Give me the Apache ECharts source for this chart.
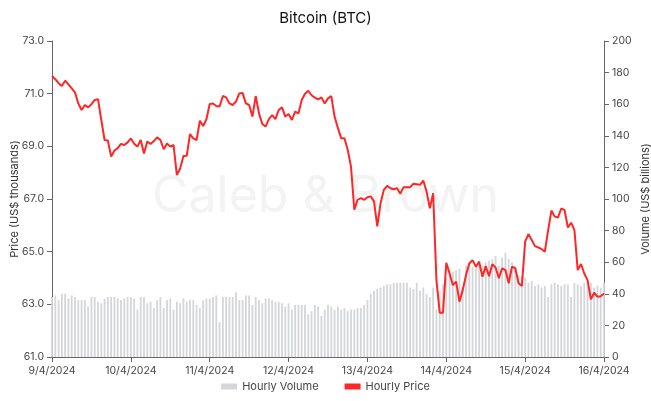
<!DOCTYPE html>
<html><head><meta charset="utf-8">
<script src="https://cdn.jsdelivr.net/npm/echarts@6/dist/echarts.min.js"></script>
<style>html,body{margin:0;padding:0;background:#fff}#c{width:651px;height:401px}</style>
</head><body><div id="c"></div>
<script>
const dayLabels = ['9/4/2024','10/4/2024','11/4/2024','12/4/2024','13/4/2024','14/4/2024','15/4/2024','16/4/2024'];
const price = [71.67,71.55,71.40,71.29,71.49,71.35,71.20,71.05,70.63,70.38,70.57,70.48,70.60,70.76,70.79,70.0,69.24,69.22,68.61,68.84,68.93,69.09,69.05,69.15,
69.30,69.10,68.99,69.24,68.73,69.18,69.09,69.20,69.34,69.24,68.89,69.11,68.99,69.05,67.91,68.16,68.63,68.64,69.46,69.30,69.24,69.97,69.77,70.03,
70.61,70.63,70.53,70.51,70.91,70.86,70.63,70.57,70.70,71.01,71.03,70.63,70.57,70.13,70.91,70.25,69.85,69.75,70.03,70.19,70.03,70.38,70.48,70.13,
70.23,70.0,70.32,70.25,70.76,71.0,71.11,70.94,70.85,70.78,70.86,70.63,70.82,70.91,70.13,69.7,69.31,69.31,68.87,68.23,66.59,66.97,67.03,66.97,
67.07,67.10,66.91,65.96,66.84,67.35,67.50,67.41,67.37,67.41,67.20,67.45,67.45,67.45,67.58,67.56,67.54,67.70,67.28,66.65,67.22,63.92,62.68,62.68,
64.58,64.17,63.73,63.86,63.10,63.54,64.11,64.55,64.68,64.43,64.62,64.05,64.45,64.07,64.52,64.40,63.99,64.37,64.30,63.80,64.43,64.37,63.80,63.70,
65.38,65.67,65.44,65.21,65.16,65.10,65.00,65.82,66.56,66.33,66.30,66.64,66.58,65.92,66.10,65.82,64.30,64.53,64.17,63.92,63.19,63.44,63.29,63.31,63.41];
const volume = [38,39,36,40,40,37,39,38,36,36,36,32,38,38,35,34,37,38,38,38,37,36,37,38,
38,37,30,38,38,34,35,31,36,38,31,36,37,30,35,34,37,35,36,36,33,31,36,37,
37,38,39,22,38,38,38,38,41,36,36,39,39,33,38,36,34,37,37,36,35,35,34,32,
34,30,33,33,33,33,27,29,33,32,26,30,33,32,30,32,30,31,29,30,30,31,31,33,
36,40,42,43,44,45,46,46,47,47,47,47,47,44,43,47,42,44,40,38,44,30,42,46,
50,52,54,55,56,44,58,60,57,58,59,58,60,61,62,64,58,63,66,62,60,57,52,51,
50,47,48,45,46,44,45,38,46,47,46,45,46,46,38,47,46,45,47,46,47,44,45,44,47];
const cats = price.map((_, i) => i % 24 === 0 ? dayLabels[i / 24] : String(i));
const chart = echarts.init(document.getElementById('c'));
const ax = {lineStyle:{color:'#666'}};
chart.setOption({
  animation:false,
  textStyle:{fontFamily:'Inter'},
  title:{text:'Bitcoin (BTC)',left:'center',top:6,textStyle:{fontSize:15,fontWeight:'normal',color:'#111',fontFamily:'Inter'}},
  graphic:[{type:'text',left:'center',top:172,z:0,style:{text:'Caleb & Brown',fontSize:50,fill:'#f3f3f3',fontFamily:'Inter'}}],
  legend:{bottom:4,itemGap:26,icon:'rect',itemWidth:16,itemHeight:6,textStyle:{fontSize:11,color:'#444'},
    data:['Hourly Volume','Hourly Price']},
  grid:{left:52,right:47,top:41,bottom:44,outerBoundsMode:'none',containLabel:false},
  xAxis:{type:'category',data:cats,boundaryGap:false,axisLine:ax,
    axisTick:{interval:(i)=>i%24===0,lineStyle:{color:'#666'}},
    axisLabel:{interval:(i)=>i%24===0,formatter:v=>v.indexOf('/')>0?v:'',fontSize:10.5,color:'#444',showMaxLabel:true}},
  yAxis:[
    {type:'value',min:61,max:73,interval:2,name:'Price (US$ thousands)',nameLocation:'middle',nameGap:32,nameMoveOverlap:false,
     nameTextStyle:{fontSize:11,color:'#333'},axisLine:{show:true,...ax},axisTick:{show:true},splitLine:{show:false},
     axisLabel:{formatter:v=>v.toFixed(1),fontSize:10.5,color:'#444'}},
    {type:'value',min:0,max:200,interval:20,name:'Volume (US$ billions)',nameLocation:'middle',nameGap:36,nameMoveOverlap:false,
     nameTextStyle:{fontSize:11,color:'#333'},axisLine:{show:true,...ax},axisTick:{show:true},splitLine:{show:false},
     axisLabel:{fontSize:10.5,color:'#444'}}
  ],
  series:[
    {name:'Hourly Volume',type:'bar',yAxisIndex:1,data:volume,barWidth:'55%',itemStyle:{color:'#d3d6da'},z:2},
    {name:'Hourly Price',type:'line',yAxisIndex:0,data:price,symbol:'none',lineStyle:{color:'#ff2626',width:2},itemStyle:{color:'#ff2626'},z:3}
  ]
});
</script></body></html>
